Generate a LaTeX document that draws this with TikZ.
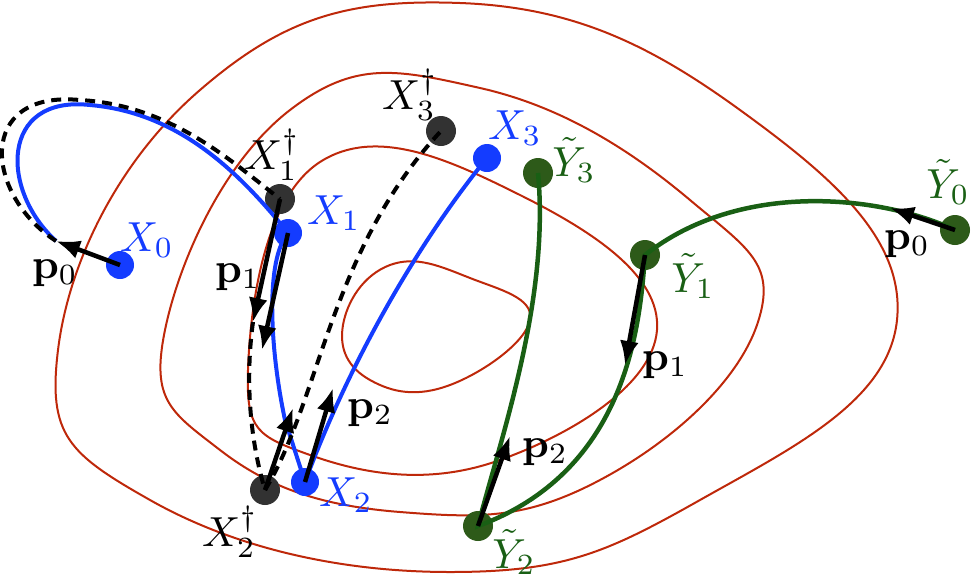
\documentclass[tikz,border=0pt]{standalone}
\usetikzlibrary{arrows.meta}
\definecolor{cred}{RGB}{190,40,10}
\definecolor{cblue}{RGB}{20,60,255}
\definecolor{cgreen}{RGB}{25,95,20}
\definecolor{cdot}{RGB}{45,90,25}
\definecolor{cgray}{RGB}{50,50,50}
\tikzset{
 contour/.style={cred,line width=2pt},
 bpath/.style={cblue,line width=4pt},
 gpath/.style={cgreen,line width=4.5pt},
 dpath/.style={black,line width=4pt,dash pattern=on 10pt off 7pt},
 mom/.style={black,line width=4.5pt,-{Latex[length=24pt,width=19pt]}},
 bdot/.style={circle,fill=cblue,minimum size=28pt,inner sep=0pt},
 kdot/.style={circle,fill=cgray,minimum size=30pt,inner sep=0pt},
 gdot/.style={circle,fill=cdot,minimum size=30pt,inner sep=0pt},
 lab/.style={scale=4.2,inner sep=0pt},
}
\begin{document}
\begin{tikzpicture}[x=1pt,y=-1pt]
\useasboundingbox (0,0) rectangle (971,582);
% contours
\draw[contour] plot[smooth cycle,tension=0.75] coordinates{(343,325)(390,265)(470,278)(530,320)(450,385)(370,380)};
\draw[contour] plot[smooth cycle,tension=0.75] coordinates{(248,370)(320,162)(520,195)(657,330)(500,460)(310,455)};
\draw[contour] plot[smooth cycle,tension=0.75] coordinates{(165,330)(290,110)(480,88)(690,200)(758,322)(600,480)(400,512)(220,450)};
\draw[contour] plot[smooth cycle,tension=0.75] coordinates{(58,350)(200,90)(460,3)(740,110)(897,320)(700,500)(450,572)(150,500)};
% nodes
\node[bdot] (X0) at (120,265) {};
\node[bdot] (X1) at (288,233) {};
\node[bdot] (X2) at (305,482) {};
\node[bdot] (X3) at (487,158) {};
\node[kdot] (D1) at (280,199) {};
\node[kdot] (D2) at (265,490) {};
\node[kdot] (D3) at (441,131) {};
\node[gdot] (Y0) at (955,230) {};
\node[gdot] (Y1) at (645,255) {};
\node[gdot] (Y2) at (478,526) {};
\node[gdot] (Y3) at (538,173) {};
\coordinate (a0) at (56,241);
\coordinate (d1) at (253,322);
\coordinate (b1) at (262,350);
\coordinate (d2) at (293,408);
\coordinate (b2) at (333,388);
\coordinate (g0) at (890,208);
\coordinate (g1) at (625,365);
\coordinate (g2) at (510,436);
% paths
\draw[bpath] (a0) .. controls (0,190) and (0,95) .. (90,105) .. controls (170,112) and (230,160) .. (X1.center)
  .. controls (265,260) and (270,350) .. (285,420) -- (X2.center)
  .. controls (350,360) and (420,240) .. (X3.center);
\draw[dpath] (a0) .. controls (-15,195) and (-25,90) .. (80,100) .. controls (170,105) and (230,160) .. (D1.center);
\draw[dpath] (d1) .. controls (245,380) and (250,440) .. (D2.center);
\draw[dpath] (D2.center) .. controls (320,400) and (330,250) .. (D3.center);
\draw[gpath] (Y0.center) .. controls (880,195) and (740,180) .. (Y1.center)
  .. controls (640,320) and (630,470) .. (Y2.center)
  .. controls (500,440) and (550,300) .. (Y3.center);
% arrows
\draw[mom] (X0.center) -- (a0);
\draw[mom] (D1.center) -- (d1);
\draw[mom] (X1.center) -- (b1);
\draw[mom] (D2.center) -- (d2);
\draw[mom] (X2.center) -- (b2);
\draw[mom] (Y0.center) -- (g0);
\draw[mom] (Y1.center) -- (g1);
\draw[mom] (Y2.center) -- (g2);
% labels
\node[lab,cblue] at (147,240) {$X_0$};
\node[lab,cblue] at (334,213) {$X_1$};
\node[lab,cblue] at (346,495) {$X_2$};
\node[lab,cblue] at (515,128) {$X_3$};
\node[lab] at (272,155) {$X_1^\dagger$};
\node[lab] at (230,532) {$X_2^\dagger$};
\node[lab] at (410,95) {$X_3^\dagger$};
\node[lab] at (55,273) {$\mathbf{p}_0$};
\node[lab] at (238,277) {$\mathbf{p}_1$};
\node[lab] at (370,413) {$\mathbf{p}_2$};
\node[lab,cgreen] at (574,160) {$\tilde Y_3$};
\node[lab,cgreen] at (693,276) {$\tilde Y_1$};
\node[lab,cgreen] at (514,552) {$\tilde Y_2$};
\node[lab,cgreen] at (948,182) {$\tilde Y_0$};
\node[lab] at (907,244) {$\mathbf{p}_0$};
\node[lab] at (665,365) {$\mathbf{p}_1$};
\node[lab] at (545,452) {$\mathbf{p}_2$};
\end{tikzpicture}
\end{document}
